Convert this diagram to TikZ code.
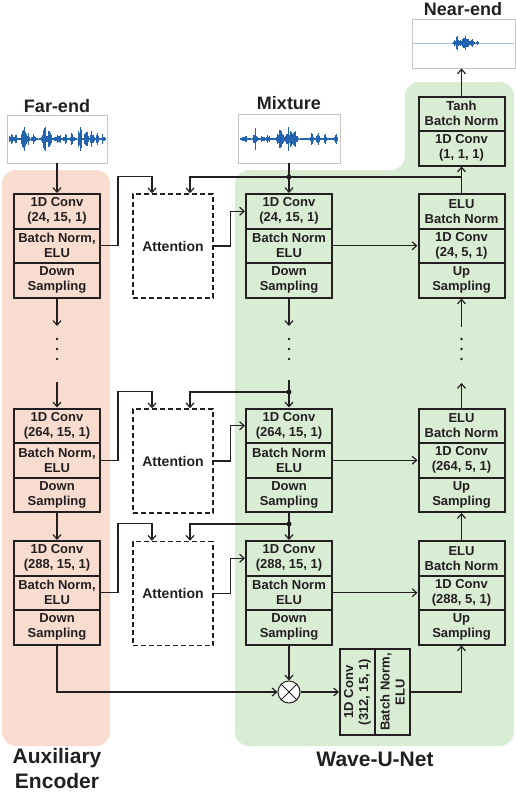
\documentclass[tikz,border=0pt]{standalone}
\usepackage{fontspec}
\setmainfont{Liberation Sans}
\usetikzlibrary{arrows.meta,calc}
\definecolor{salmon}{HTML}{F9DCD0}
\definecolor{mint}{HTML}{D9EDD5}
\definecolor{ink}{HTML}{231F20}
\definecolor{wblue}{HTML}{2463B0}
\definecolor{wline}{HTML}{A9C1E3}
\definecolor{wframe}{HTML}{C4C4C4}
\pgfmathdeclarefunction{tri}{3}{\pgfmathparse{max(0,1-abs(#1-#2)/#3)}}
\pgfmathdeclarefunction{envfar}{1}{\pgfmathparse{1.2+6*tri(#1,12,3)+5*tri(#1,16,2)+17*tri(#1,24,3)+7*tri(#1,28,2)+6*tri(#1,34,3)+17*tri(#1,44,3)+11*tri(#1,49,3)+6*tri(#1,58,4)+5*tri(#1,65,3)+7*tri(#1,72,3)+18*tri(#1,80,2.5)+13*tri(#1,86,3)+10*tri(#1,92,3)+7*tri(#1,97,2)+5*tri(#1,103,2)}}
\pgfmathdeclarefunction{envmix}{1}{\pgfmathparse{1.0+4*tri(#1,245,4)+11*tri(#1,255,2.5)+4*tri(#1,262,3)+5*tri(#1,268,3)+12*tri(#1,281,5)+12*tri(#1,289,5)+9*tri(#1,295,3)+11*tri(#1,312,2)+5*tri(#1,318,3)+8*tri(#1,325,2)+5*tri(#1,336,2)}}
\pgfmathdeclarefunction{envnear}{1}{\pgfmathparse{8*tri(#1,457,5)+9*tri(#1,465,5)+6*tri(#1,472,3)+2.5*tri(#1,477,2)}}
\begin{document}
\begin{tikzpicture}[x=1pt,y=-1pt,
 cell/.style={draw=ink, line width=2pt, minimum width=86pt, minimum height=34.5pt, inner sep=0pt, align=center, text=ink, font=\fontsize{13}{15}\selectfont\bfseries},
 attn/.style={draw=ink, line width=1.5pt, dash pattern=on 5pt off 3pt, minimum width=80pt, minimum height=104pt, inner sep=0pt, font=\fontsize{14}{16}\selectfont\bfseries, text=ink},
 arr/.style={draw=ink, line width=1.2pt, -{Straight Barb[length=4.5pt,width=8pt]}},
 con/.style={draw=ink, line width=1.2pt},
 title/.style={font=\fontsize{18}{20}\selectfont\bfseries, text=ink, inner sep=0pt},
 big/.style={font=\fontsize{21}{25}\selectfont\bfseries, text=ink, inner sep=0pt, align=center},
 wbox/.style={draw=wframe, line width=0.8pt, fill=white, inner sep=0pt},
 spike/.style={draw=wblue, line width=0.6pt},
]
\useasboundingbox (0,0) rectangle (516,792);
% backgrounds
\fill[salmon, rounded corners=14pt] (2,170) rectangle (110,746);
\fill[mint, rounded corners=14pt] (235,170) -- (405,170) -- (405,82) -- (514,82) -- (514,746) -- (235,746) -- cycle;

% titles
\node[title, anchor=base] (tfar) at (57,112) {Far-end};
\node[title, anchor=base] (tmix) at (289,109) {Mixture};
\node[title, anchor=base] (tnear) at (463,15.7) {Near-end};
\node[big] (taux) at (57,768) {Auxiliary\\Encoder};
\node[big, anchor=base] (twun) at (375,766) {Wave-U-Net};

% waveform boxes
\node[wbox, minimum width=100pt, minimum height=48pt] (fe) at (57,139) {};
\node[wbox, minimum width=102pt, minimum height=49pt] (mx) at (289,138.5) {};
\node[wbox, minimum width=103pt, minimum height=49pt] (ne) at (463.5,43.5) {};
\pgfmathsetseed{11}
\draw[wblue, line width=0.8pt] (9,139) -- (105,139);
\foreach \i in {0,...,128}{
  \pgfmathsetmacro\xx{9+\i*0.75}
  \pgfmathsetmacro\aa{envfar(\xx)*(0.35+0.65*rnd)}
  \draw[spike] ({\xx},{139-\aa}) -- ({\xx},{139+\aa});
}
\draw[wblue, line width=0.8pt] (240,139) -- (338,139);
\foreach \i in {0,...,130}{
  \pgfmathsetmacro\xx{240+\i*0.75}
  \pgfmathsetmacro\aa{envmix(\xx)*(0.35+0.65*rnd)}
  \draw[spike] ({\xx},{139-\aa}) -- ({\xx},{139+\aa});
}
\draw[wline, line width=0.7pt] (413,43) -- (514,43);
\foreach \i in {0,...,40}{
  \pgfmathsetmacro\xx{451+\i*0.7}
  \pgfmathsetmacro\aa{envnear(\xx)*(0.4+0.6*rnd)}
  \draw[spike] ({\xx},{43-\aa}) -- ({\xx},{43+\aa});
}

% encoder column
\node[cell] (e1a) at (57,211.25) {1D Conv\\(24, 15, 1)};
\node[cell] (e1b) at (57,245.75) {Batch Norm,\\ELU};
\node[cell] (e1c) at (57,280.25) {Down\\Sampling};
\node[cell] (e2a) at (57,425.75) {1D Conv\\(264, 15, 1)};
\node[cell] (e2b) at (57,460.25) {Batch Norm,\\ELU};
\node[cell] (e2c) at (57,494.75) {Down\\Sampling};
\node[cell] (e3a) at (57,558.25) {1D Conv\\(288, 15, 1)};
\node[cell] (e3b) at (57,592.75) {Batch Norm,\\ELU};
\node[cell] (e3c) at (57,627.25) {Down\\Sampling};

% attention
\node[attn] (att1) at (173,246) {Attention};
\node[attn] (att2) at (173,461) {Attention};
\node[attn] (att3) at (173,593.5) {Attention};

% wave-u-net encoder column
\node[cell] (w1a) at (289,211.25) {1D Conv\\(24, 15, 1)};
\node[cell] (w1b) at (289,245.75) {Batch Norm\\ELU};
\node[cell] (w1c) at (289,280.25) {Down\\Sampling};
\node[cell] (w2a) at (289,425.75) {1D Conv\\(264, 15, 1)};
\node[cell] (w2b) at (289,460.25) {Batch Norm\\ELU};
\node[cell] (w2c) at (289,494.75) {Down\\Sampling};
\node[cell] (w3a) at (289,558.25) {1D Conv\\(288, 15, 1)};
\node[cell] (w3b) at (289,592.75) {Batch Norm\\ELU};
\node[cell] (w3c) at (289,627.25) {Down\\Sampling};

% decoder column
\node[cell] (t1a) at (461.5,113.75) {Tanh\\Batch Norm};
\node[cell] (t1b) at (461.5,148.25) {1D Conv\\(1, 1, 1)};
\node[cell] (d1a) at (461.5,211.25) {ELU\\Batch Norm};
\node[cell] (d1b) at (461.5,245.75) {1D Conv\\(24, 5, 1)};
\node[cell] (d1c) at (461.5,280.25) {Up\\Sampling};
\node[cell] (d2a) at (461.5,425.75) {ELU\\Batch Norm};
\node[cell] (d2b) at (461.5,460.25) {1D Conv\\(264, 5, 1)};
\node[cell] (d2c) at (461.5,494.75) {Up\\Sampling};
\node[cell] (d3a) at (461.5,558.25) {ELU\\Batch Norm};
\node[cell] (d3b) at (461.5,592.75) {1D Conv\\(288, 5, 1)};
\node[cell] (d3c) at (461.5,627.25) {Up\\Sampling};

% bottleneck
\node[circle, draw=ink, line width=1pt, fill=white, minimum size=22pt, inner sep=0pt] (ot) at (289,692) {};
\draw[ink, line width=1pt] (ot.north west) -- (ot.south east) (ot.north east) -- (ot.south west);
\node[cell, rotate=90, minimum width=86pt, minimum height=35pt] (r1) at (357.5,692) {1D Conv\\(312, 15, 1)};
\node[cell, rotate=90, minimum width=86pt, minimum height=35pt] (r2) at (392.5,692) {Batch Norm,\\ELU};

% coordinates
\coordinate (j1) at (289,177);
\coordinate (j2) at (289,392);
\coordinate (j3) at (289,524);
\coordinate (eg1) at (57,326);
\coordinate (eg2) at (57,382);
\coordinate (wg1) at (289,326);
\coordinate (wg2) at (289,380);
\coordinate (dg1) at (461.5,327);
\coordinate (dg2) at (461.5,383);

% connectors row 1
\draw[arr] (fe.south) -- (e1a.north);
\draw[arr] (mx.south) -- (w1a.north);
\draw[arr] (j1) -| ($(att1.north)+(17,0)$);
\draw[con] (j1) -- (j1 -| t1b.south);
\draw[arr] (e1b.east) -- ++(17,0) |- ($(att1.north)+(-21,-17)$) -- ($(att1.north)+(-21,0)$);
\draw[arr] (att1.east) -- ++(17,0) |- (w1a.west);
\draw[arr] (w1b.east) -- (d1b.west);
\draw[arr] (d1a.north) -- (t1b.south);
\draw[arr] (t1a.north) -- (t1a.north |- ne.south);

% gaps
\draw[arr] (e1c.south) -- (eg1);
\draw[arr] (eg2) -- (e2a.north);
\draw[arr] (w1c.south) -- (wg1);
\draw[arr] (wg2) -- (w2a.north);
\draw[arr] (dg1) -- (d1c.south);
\draw[arr] (d2a.north) -- (dg2);
\foreach \yy in {339,349,359}{
  \fill[ink] (57,\yy) circle (1.3pt);
  \fill[ink] (289,\yy) circle (1.3pt);
  \fill[ink] (461.5,\yy) circle (1.3pt);
}

% row 2
\draw[arr] (j2) -| ($(att2.north)+(17,0)$);
\draw[arr] (e2b.east) -- ++(17,0) |- ($(att2.north)+(-21,-17)$) -- ($(att2.north)+(-21,0)$);
\draw[arr] (att2.east) -- ++(17,0) |- (w2a.west);
\draw[arr] (w2b.east) -- (d2b.west);
\draw[arr] (e2c.south) -- (e3a.north);
\draw[arr] (w2c.south) -- (w3a.north);
\draw[arr] (d3a.north) -- (d2c.south);

% row 3
\draw[arr] (j3) -| ($(att3.north)+(17,0)$);
\draw[arr] (e3b.east) -- ++(17,0) |- ($(att3.north)+(-21,-17)$) -- ($(att3.north)+(-21,0)$);
\draw[arr] (att3.east) -- ++(17,0) |- (w3a.west);
\draw[arr] (w3b.east) -- (d3b.west);

% bottom
\draw[arr] (e3c.south) |- (ot.west);
\draw[arr] (w3c.south) -- (ot.north);
\draw[arr] (ot.east) -- (r1.north);
\draw[arr] (r2.south) -| (d3c.south);

% junction dots
\fill[ink] (j1) circle (2.5pt);
\fill[ink] (j2) circle (2.5pt);
\fill[ink] (j3) circle (2.5pt);
\end{tikzpicture}
\end{document}
